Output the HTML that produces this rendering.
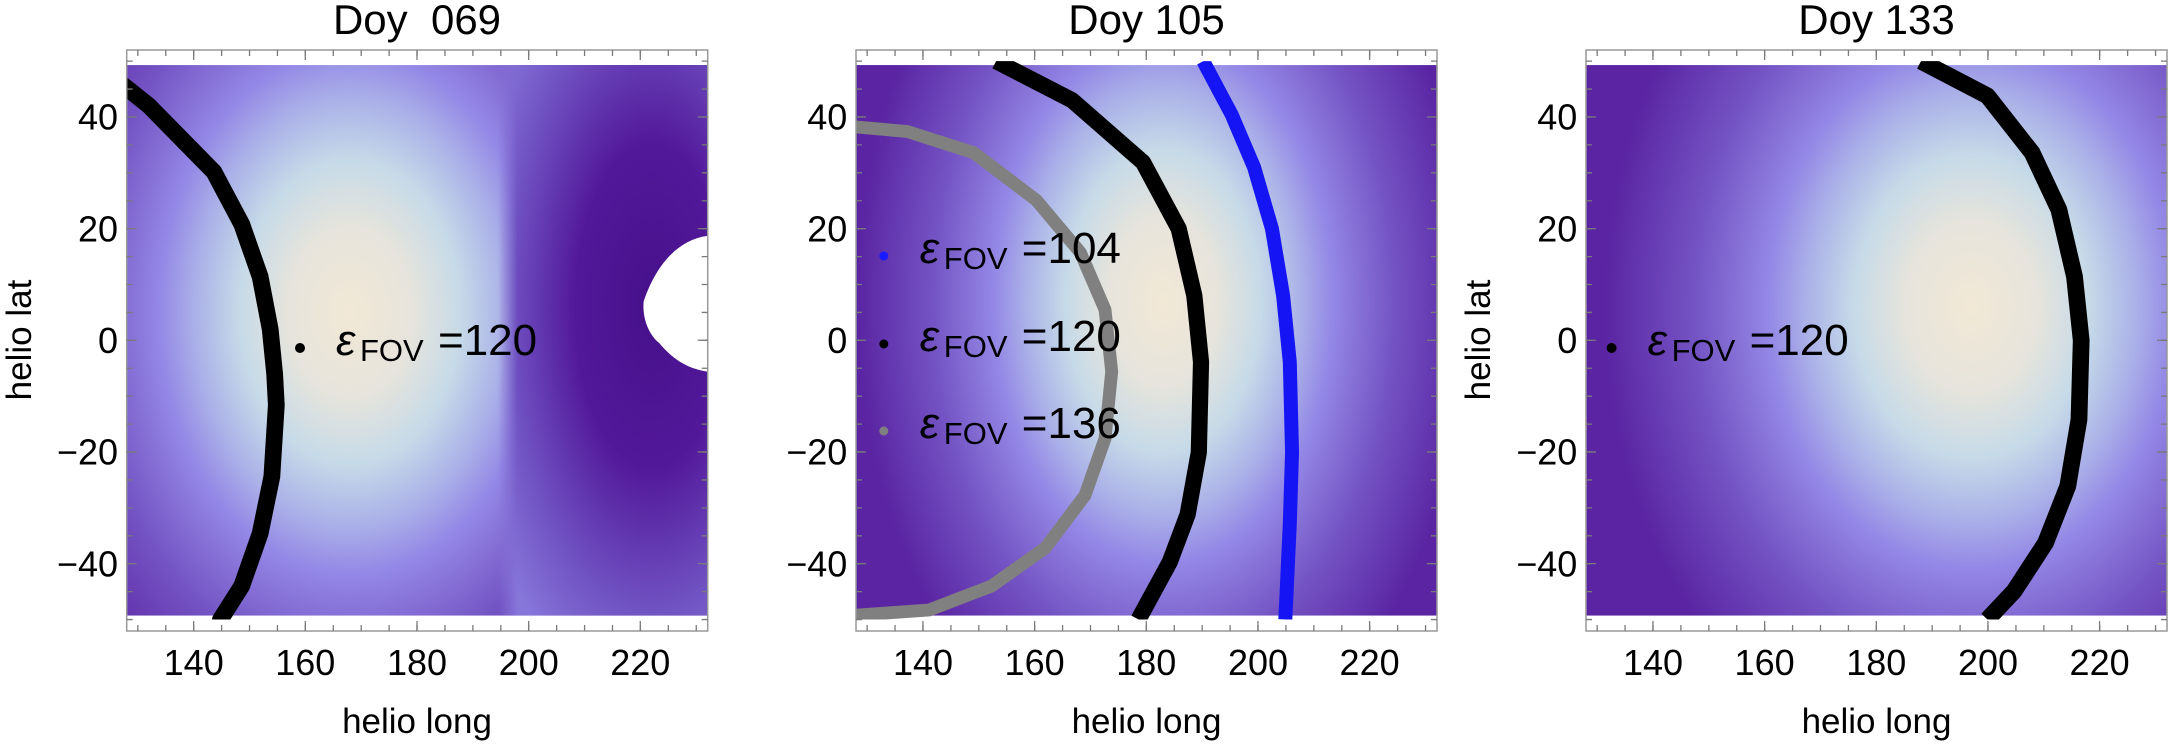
<!DOCTYPE html>
<html><head><meta charset="utf-8"><style>
html,body{margin:0;padding:0;background:#fff;}
svg{display:block;font-family:"Liberation Sans",Arial,sans-serif;}
</style></head><body>
<svg width="2170" height="748" viewBox="0 0 2170 748" xmlns="http://www.w3.org/2000/svg">
<defs>
<radialGradient id="g1" gradientUnits="userSpaceOnUse" cx="0" cy="0" r="1" gradientTransform="translate(168,5) scale(62,85)">
<stop offset="0" stop-color="#f2e8d6"/><stop offset="0.18" stop-color="#e6e4dc"/><stop offset="0.32" stop-color="#c6dae8"/><stop offset="0.45" stop-color="#aab0e8"/><stop offset="0.55" stop-color="#9488e6"/><stop offset="0.75" stop-color="#7454c4"/><stop offset="1" stop-color="#5a24a2"/>
</radialGradient>
<radialGradient id="g1b" gradientUnits="userSpaceOnUse" cx="0" cy="0" r="1" gradientTransform="translate(222,6) scale(34,72)">
<stop offset="0" stop-color="#46108a"/><stop offset="0.4" stop-color="#52189a"/><stop offset="0.75" stop-color="#7052c2"/><stop offset="1" stop-color="#8676da"/>
</radialGradient>
<linearGradient id="fade" gradientUnits="userSpaceOnUse" x1="194.5" y1="0" x2="198" y2="0">
<stop offset="0" stop-color="#fff" stop-opacity="0"/><stop offset="1" stop-color="#fff" stop-opacity="1"/>
</linearGradient>
<mask id="m1" maskUnits="userSpaceOnUse" x="128" y="-52" width="104" height="104"><rect x="194" y="-52" width="38" height="104" fill="url(#fade)"/></mask>
<radialGradient id="g2" gradientUnits="userSpaceOnUse" cx="0" cy="0" r="1" gradientTransform="translate(183,7) scale(55,85)">
<stop offset="0" stop-color="#f2e8d6"/><stop offset="0.18" stop-color="#e6e4dc"/><stop offset="0.32" stop-color="#c6dae8"/><stop offset="0.45" stop-color="#aab0e8"/><stop offset="0.55" stop-color="#9488e6"/><stop offset="0.75" stop-color="#7454c4"/><stop offset="1" stop-color="#5a24a2"/>
</radialGradient>
<radialGradient id="g3" gradientUnits="userSpaceOnUse" cx="0" cy="0" r="1" gradientTransform="translate(197,6) scale(66,85)">
<stop offset="0" stop-color="#f2e8d6"/><stop offset="0.18" stop-color="#e6e4dc"/><stop offset="0.32" stop-color="#c6dae8"/><stop offset="0.45" stop-color="#aab0e8"/><stop offset="0.55" stop-color="#9488e6"/><stop offset="0.75" stop-color="#7454c4"/><stop offset="1" stop-color="#5a24a2"/>
</radialGradient>
<clipPath id="dc"><rect x="128" y="-50" width="104" height="100"/></clipPath>
</defs>

<!-- Panel 1 -->
<g transform="translate(126.7,50) scale(5.583,-5.583) translate(-128,-52)">
<rect x="128" y="-49.3" width="104" height="98.6" fill="url(#g1)"/>
<rect x="194" y="-49.3" width="38" height="98.6" fill="url(#g1b)" mask="url(#m1)"/>
<path d="M232,18.7 C227,18 223,14 220.6,7 C220.3,4 221.5,1 223.4,-0.5 C225.5,-3 228,-5 232,-5.6 Z" fill="#fff"/>
<g clip-path="url(#dc)">
<polyline fill="none" stroke="#000" stroke-width="3" stroke-linejoin="round" stroke-linecap="round" points="127,46 131.9,42.1 143.6,30.2 148.6,20.8 151.9,11.4 153.7,2 154.5,-6 154.8,-11.6 154,-24.4 151.9,-34.6 148.6,-44 144.8,-50"/>
</g>
</g>

<!-- Panel 2 -->
<g transform="translate(856,50) scale(5.583,-5.583) translate(-128,-52)">
<rect x="128" y="-49.3" width="104" height="98.6" fill="url(#g2)"/>
<g clip-path="url(#dc)">
<polyline fill="none" stroke="#808080" stroke-width="2.3" stroke-linejoin="round" points="127,38.3 137.2,37.4 149.1,33.6 160.3,25.1 168.2,15.7 172.6,5.5 173.8,-5.6 172.6,-17.6 169,-27.8 161.9,-37.2 152.3,-44 141.1,-48.3 127,-49.3"/>
<polyline fill="none" stroke="#000" stroke-width="2.9" stroke-linejoin="round" points="153.1,50 166.7,43 179.4,31.9 185.8,20 188.6,8 189.8,-3.9 189.4,-20.1 187.4,-31.2 184.2,-39.7 178.6,-50"/>
<polyline fill="none" stroke="#1414f4" stroke-width="2.5" stroke-linejoin="round" points="190.2,50 195.3,40.4 199.3,31 202.5,20 204.5,8 205.7,-3.9 206.1,-20.1 205.7,-32.9 204.9,-50"/>
</g>
</g>

<!-- Panel 3 -->
<g transform="translate(1586,50) scale(5.583,-5.583) translate(-128,-52)">
<rect x="128" y="-49.3" width="104" height="98.6" fill="url(#g3)"/>
<g clip-path="url(#dc)">
<polyline fill="none" stroke="#000" stroke-width="3" stroke-linejoin="round" points="188,50 199.9,43.8 207.9,33.6 212.7,23.4 215.5,11.4 216.7,0 216.3,-14.2 214.3,-26.1 210.3,-36.3 204.7,-44.9 199.9,-50"/>
</g>
</g>

<!-- Frames and ticks -->
<g fill="none" stroke="#7a7a7a">
<g id="f1" transform="translate(126.7,50)">
<rect x="0" y="0" width="581" height="581" stroke="#999" stroke-width="1.5"/>
<line x1="0" y1="578" x2="581" y2="578" stroke-width="6" stroke-dasharray="1.3 26.62" stroke-dashoffset="-10.5"/>
<line x1="0" y1="576" x2="581" y2="576" stroke-width="10" stroke-dasharray="1.3 110.36" stroke-dashoffset="-66.3"/>
<line x1="0" y1="3" x2="581" y2="3" stroke-width="6" stroke-dasharray="1.3 26.62" stroke-dashoffset="-10.5"/>
<line x1="0" y1="5" x2="581" y2="5" stroke-width="10" stroke-dasharray="1.3 110.36" stroke-dashoffset="-66.3"/>
<line x1="3" y1="0" x2="3" y2="581" stroke-width="6" stroke-dasharray="1.3 26.62" stroke-dashoffset="-10.5"/>
<line x1="5" y1="0" x2="5" y2="581" stroke-width="10" stroke-dasharray="1.3 110.36" stroke-dashoffset="-66.3"/>
<line x1="578" y1="0" x2="578" y2="581" stroke-width="6" stroke-dasharray="1.3 26.62" stroke-dashoffset="-10.5"/>
<line x1="576" y1="0" x2="576" y2="581" stroke-width="10" stroke-dasharray="1.3 110.36" stroke-dashoffset="-66.3"/>
</g>
<use href="#f1" transform="translate(729.3,0)"/>
<use href="#f1" transform="translate(1459.3,0)"/>
</g>

<!-- Titles -->
<g font-size="42" text-anchor="middle" fill="#000" style="white-space:pre">
<text x="417" y="34" xml:space="preserve">Doy  069</text>
<text x="1146.5" y="34">Doy 105</text>
<text x="1876.5" y="34">Doy 133</text>
</g>

<!-- X tick labels -->
<g font-size="36" text-anchor="middle" fill="#000">
<text x="193.7" y="675">140</text><text x="305.3" y="675">160</text><text x="417" y="675">180</text><text x="528.7" y="675">200</text><text x="640.3" y="675">220</text>
<text x="923" y="675">140</text><text x="1034.6" y="675">160</text><text x="1146.3" y="675">180</text><text x="1258" y="675">200</text><text x="1369.6" y="675">220</text>
<text x="1653" y="675">140</text><text x="1764.6" y="675">160</text><text x="1876.3" y="675">180</text><text x="1988" y="675">200</text><text x="2099.6" y="675">220</text>
<text x="417" y="733" font-size="35">helio long</text>
<text x="1146.5" y="733" font-size="35">helio long</text>
<text x="1876.5" y="733" font-size="35">helio long</text>
</g>

<!-- Y tick labels -->
<g font-size="36" text-anchor="end" fill="#000">
<g id="yl">
<text x="118" y="129.7">40</text><text x="118" y="241.4">20</text><text x="118" y="353">0</text><text x="118" y="464.7">−20</text><text x="118" y="576.3">−40</text>
</g>
<use href="#yl" transform="translate(729.3,0)"/>
<use href="#yl" transform="translate(1459.3,0)"/>
</g>
<g font-size="35" text-anchor="middle" fill="#000">
<text transform="translate(31,340) rotate(-90)">helio lat</text>
<text transform="translate(1490,340) rotate(-90)">helio lat</text>
</g>

<!-- Legends -->
<g fill="#000">
<circle cx="300" cy="348" r="5"/>
<text y="355" font-size="44"><tspan x="336" font-style="italic">ε</tspan><tspan x="360" y="361" font-size="31">FOV</tspan><tspan x="438" y="355">=120</tspan></text>
<circle cx="1611.6" cy="348" r="5"/>
<text y="355" font-size="44"><tspan x="1647.6" font-style="italic">ε</tspan><tspan x="1671.6" y="361" font-size="31">FOV</tspan><tspan x="1749.6" y="355">=120</tspan></text>

<circle cx="883.8" cy="256" r="4.5" fill="#1a1aff"/>
<text y="263" font-size="44"><tspan x="919.8" font-style="italic">ε</tspan><tspan x="943.8" y="269" font-size="31">FOV</tspan><tspan x="1021.8" y="263">=104</tspan></text>
<circle cx="883.8" cy="344" r="4.5"/>
<text y="351" font-size="44"><tspan x="919.8" font-style="italic">ε</tspan><tspan x="943.8" y="357" font-size="31">FOV</tspan><tspan x="1021.8" y="351">=120</tspan></text>
<circle cx="883.8" cy="431" r="4.5" fill="#808080"/>
<text y="438" font-size="44"><tspan x="919.8" font-style="italic">ε</tspan><tspan x="943.8" y="444" font-size="31">FOV</tspan><tspan x="1021.8" y="438">=136</tspan></text>
</g>
</svg>
</body></html>
